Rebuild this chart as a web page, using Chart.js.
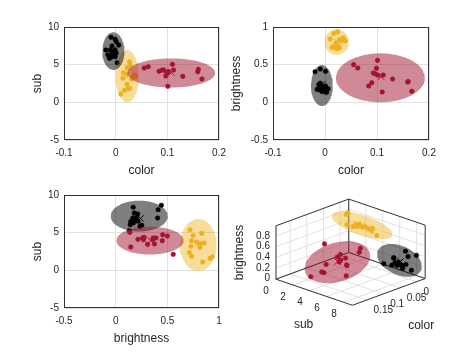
<!DOCTYPE html>
<html><head><meta charset="utf-8">
<script src="https://cdn.jsdelivr.net/npm/chart.js@4/dist/chart.umd.min.js"></script>
<style>
html,body{margin:0;padding:0;background:#fff;width:474px;height:355px;overflow:hidden}
canvas{position:absolute}
</style></head><body>
<canvas id="c1" width="237" height="180" style="left:0px;top:0px"></canvas>
<canvas id="c2" width="252" height="180" style="left:222px;top:0px"></canvas>
<canvas id="c3" width="237" height="175" style="left:0px;top:180px"></canvas>
<canvas id="c4" width="252" height="175" style="left:222px;top:180px"></canvas>
<script>
// ---------------- DATA ----------------
// clusters: red, black, yellow  (color, sub, brightness)
const redColor   = [0.055,0.063,0.084,0.090,0.093,0.097,0.099,0.101,0.102,0.110,0.112,0.130,0.159,0.160,0.167];
const redSub     = [4.55,4.73,4.11,4.29,4.29,3.49,3.93,2.12,4.07,5.04,4.29,3.45,4.07,4.38,3.09];
const redBright  = [0.50,0.455,0.216,0.26,0.39,0.376,0.451,0.557,0.36,0.137,0.362,0.309,0.27,0.275,0.146];

const blackColor  = [-0.009,-0.001,0.001,0.006,-0.007,-0.019,-0.010,-0.001,-0.006,0.001,-0.009,-0.001,-0.012,0.003,-0.004,-0.015];
const blackSub    = [8.63,8.37,8.05,7.6,7.48,6.95,6.95,6.95,6.46,6.51,5.98,6.06,5.84,5.26,6.70,6.3];
const blackBright = [0.442,0.17,0.411,0.18,0.213,0.406,0.165,0.199,0.145,0.216,0.252,0.141,0.235,0.132,0.197,0.172];

const yellowColor  = [0.027,0.022,0.015,0.021,0.035,0.014,0.031,0.022,0.027,0.010,0.017,0.039,0.028,0.024];
const yellowSub    = [5.39,4.60,3.93,3.76,3.63,3.19,3.05,2.39,1.86,1.10,1.59,3.53,4.90,1.81];
const yellowBright = [0.72,0.75,0.735,0.784,0.855,0.729,0.816,0.713,0.735,0.842,0.913,0.816,0.832,0.935];

// cluster centres (red, black, yellow)
const centroidColor  = [0.108,-0.005,0.024];
const centroidSub    = [3.95,6.9,3.5];
const centroidBright = [0.34,0.24,0.80];

// 2-D ellipses per panel: [cx, cy, rx, ry] in data units (red, black, yellow)
const ellColorSub    = [[0.1075,3.9,0.085,1.93],[-0.0045,6.8,0.0215,2.5],[0.0225,3.47,0.0225,3.47]];
const ellColorBright = [[0.1065,0.325,0.0855,0.325],[-0.006,0.223,0.021,0.272],[0.0225,0.80,0.0235,0.17]];
const ellBrightSub   = [[0.332,3.95,0.325,1.85],[0.228,7.2,0.276,2.05],[0.80,3.36,0.178,3.45]];

// 3-D ellipsoids: [c, s, b, rc, rs, rb]
const ellipsoids = [[0.1075,3.9,0.325,0.085,1.93,0.325],[-0.005,6.8,0.26,0.0215,2.5,0.272],[0.0225,3.47,0.80,0.0225,3.47,0.17]];

// tick labels
const colorTicks  = [-0.1,0,0.1,0.2];
const subTicks    = [-5,0,5,10];
const brightTicks = [-0.5,0,0.5,1];
const colorTicks3 = [0,0.05,0.1,0.15];
const subTicks3   = [0,2,4,6,8];
const brightTicks3= [0,0.2,0.4,0.6,0.8];
const cLim=[-0.026,0.1925], sLim=[0,9], bLim=[-0.01,0.99];

// ---------------- STYLE ----------------
const FONT = "'Liberation Sans', Arial, Helvetica, sans-serif";
const TXT = '#262626';
const GRID = '#e1e1e1';
const seriesColor = ['#A2142F','#000000','#EDB120'];
const fillColor = ['rgba(162,20,47,0.5)','rgba(0,0,0,0.5)','rgba(237,177,32,0.45)'];

const allColor=[redColor,blackColor,yellowColor];
const allSub=[redSub,blackSub,yellowSub];
const allBright=[redBright,blackBright,yellowBright];

function pts(xs,ys){return xs.map((x,i)=>({x:x,y:ys[i]}));}
function ellPts(e){const out=[];for(let i=0;i<=96;i++){const t=2*Math.PI*i/96;out.push({x:e[0]+e[2]*Math.cos(t),y:e[1]+e[3]*Math.sin(t)});}return out;}

const boxPlugin={id:'box',afterDatasetsDraw(chart){const a=chart.chartArea,ctx=chart.ctx;ctx.save();ctx.strokeStyle='#303030';ctx.lineWidth=1;
  ctx.strokeRect(Math.round(a.left)+0.5,Math.round(a.top)+0.5,Math.round(a.right-a.left)-1,Math.round(a.bottom-a.top)-1);ctx.restore();}};

function axis(pos,min,max,ticks,title,size,titlePad,tickPad){
  return {type:'linear',position:pos,min:min,max:max,
    afterBuildTicks:s=>{s.ticks=ticks.map(v=>({value:v}));},
    afterFit:s=>{if(pos==='bottom')s.height=size;else s.width=size;},
    ticks:{callback:v=>String(v),font:{family:FONT,size:10},color:TXT,padding:tickPad,maxRotation:0,minRotation:0,autoSkip:false},
    grid:{color:GRID,lineWidth:1,drawTicks:false},
    border:{display:false},
    title:{display:true,text:title,font:{family:FONT,size:12},color:TXT,
      padding:pos==='bottom'?{top:0,bottom:titlePad}:{top:titlePad,bottom:0}}};
}

function make2D(id,xs,ys,cx,cy,ells,xa,ya,pad){
  const ds=[];
  for(let k=0;k<3;k++){
    ds.push({type:'scatter',data:pts(xs[k],ys[k]),order:3,pointStyle:'circle',pointRadius:2.3,pointHoverRadius:2.3,
      backgroundColor:seriesColor[k],borderColor:seriesColor[k],borderWidth:0.5});
    ds.push({type:'line',data:ellPts(ells[k]),order:2,fill:'shape',backgroundColor:fillColor[k],
      borderColor:'transparent',borderWidth:0,pointRadius:0,pointHoverRadius:0,tension:0});
    ds.push({type:'scatter',data:[{x:cx[k],y:cy[k]}],order:1,pointStyle:'crossRot',pointRadius:4.5,pointHoverRadius:4.5,
      borderColor:seriesColor[k],backgroundColor:'transparent',borderWidth:1});
  }
  return new Chart(document.getElementById(id),{type:'scatter',data:{datasets:ds},
    options:{responsive:false,animation:false,devicePixelRatio:1,events:[],
      layout:{padding:pad},
      plugins:{legend:{display:false},tooltip:{enabled:false}},
      scales:{x:xa,y:ya}},
    plugins:[boxPlugin]});
}

make2D('c1',allColor,allSub,centroidColor,centroidSub,ellColorSub,
  axis('bottom',-0.1,0.2,colorTicks,'color',40,1.8,7),
  axis('left',-5,10,subTicks,'sub',64,30.8,5),
  {left:0,top:27,right:18,bottom:0});
make2D('c2',allColor,allBright,centroidColor,centroidBright,ellColorBright,
  axis('bottom',-0.1,0.2,colorTicks,'color',40,1.8,7),
  axis('left',-0.5,1,brightTicks,'brightness',51,7.3,5),
  {left:0,top:27,right:45,bottom:0});
make2D('c3',allBright,allSub,centroidBright,centroidSub,ellBrightSub,
  axis('bottom',-0.5,1,brightTicks,'brightness',47,8.8,7),
  axis('left',-5,10,subTicks,'sub',64,30.8,5),
  {left:0,top:15,right:18,bottom:0});

// ---------------- 3-D panel ----------------
// view layout (canvas pixel units): origin = corner (cMin, sMin, bMin); edge vectors of the box
const view={ox:126.8,oy:71.5,ec:[-76.1,28.5],es:[79.9,27.8],eb:[0,-57]};
function proj(c,s,b){
  const cn=(c-cLim[0])/(cLim[1]-cLim[0]),sn=(s-sLim[0])/(sLim[1]-sLim[0]),bn=(b-bLim[0])/(bLim[1]-bLim[0]);
  return {x:view.ox+cn*view.ec[0]+sn*view.es[0]+bn*view.eb[0],y:view.oy+cn*view.ec[1]+sn*view.es[1]+bn*view.eb[1]};
}
function silhouette(e){
  const ctr=proj(e[0],e[1],e[2]);
  const f=[e[3]/(cLim[1]-cLim[0]),e[4]/(sLim[1]-sLim[0]),e[5]/(bLim[1]-bLim[0])];
  const cols=[view.ec,view.es,view.eb].map((v,i)=>[v[0]*f[i],v[1]*f[i]]);
  let sxx=0,syy=0,sxy=0;cols.forEach(v=>{sxx+=v[0]*v[0];syy+=v[1]*v[1];sxy+=v[0]*v[1];});
  const th=0.5*Math.atan2(2*sxy,sxx-syy),m=(sxx+syy)/2,d=Math.sqrt(((sxx-syy)/2)**2+sxy*sxy);
  const A=Math.sqrt(m+d),B=Math.sqrt(Math.max(m-d,0));const out=[];
  for(let i=0;i<=96;i++){const t=2*Math.PI*i/96,u=A*Math.cos(t),v=B*Math.sin(t);
    out.push({x:ctr.x+u*Math.cos(th)-v*Math.sin(th),y:ctr.y+u*Math.sin(th)+v*Math.cos(th)});}
  return out;
}
const ds3=[];
for(let k=0;k<3;k++){
  ds3.push({type:'scatter',data:allColor[k].map((c,i)=>proj(c,allSub[k][i],allBright[k][i])),order:3,pointStyle:'circle',
    pointRadius:2.3,pointHoverRadius:2.3,backgroundColor:seriesColor[k],borderColor:seriesColor[k],borderWidth:0.5});
  ds3.push({type:'line',data:silhouette(ellipsoids[k]),order:2,fill:'shape',backgroundColor:fillColor[k],
    borderColor:'transparent',borderWidth:0,pointRadius:0,pointHoverRadius:0,tension:0});
  ds3.push({type:'scatter',data:[proj(centroidColor[k],centroidSub[k],centroidBright[k])],order:1,pointStyle:'crossRot',
    pointRadius:4.5,pointHoverRadius:4.5,borderColor:seriesColor[k],backgroundColor:'transparent',borderWidth:1});
}
const box3D={id:'box3d',
  beforeDatasetsDraw(chart){
    const ctx=chart.ctx,X=chart.scales.x,Y=chart.scales.y;
    const P=(c,s,b)=>{const p=proj(c,s,b);return [X.getPixelForValue(p.x),Y.getPixelForValue(p.y)];};
    const seg=(a,b)=>{ctx.beginPath();ctx.moveTo(a[0],a[1]);ctx.lineTo(b[0],b[1]);ctx.stroke();};
    const c0=cLim[0],c1=cLim[1],s0=sLim[0],s1=sLim[1],b0=bLim[0],b1=bLim[1];
    ctx.save();ctx.strokeStyle=GRID;ctx.lineWidth=1;
    colorTicks3.forEach(c=>{seg(P(c,s0,b0),P(c,s1,b0));seg(P(c,s0,b0),P(c,s0,b1));});
    subTicks3.forEach(s=>{seg(P(c0,s,b0),P(c1,s,b0));seg(P(c0,s,b0),P(c0,s,b1));});
    brightTicks3.concat([1]).forEach(b=>{if(b>b1)return;seg(P(c0,s0,b),P(c1,s0,b));seg(P(c0,s0,b),P(c0,s1,b));});
    ctx.strokeStyle='#303030';ctx.lineWidth=1;
    seg(P(c0,s0,b0),P(c0,s0,b1));seg(P(c1,s0,b1),P(c0,s0,b1));seg(P(c0,s0,b1),P(c0,s1,b1));
    seg(P(c1,s0,b0),P(c1,s0,b1));seg(P(c0,s1,b0),P(c0,s1,b1));
    seg(P(c1,s0,b0),P(c0,s0,b0));seg(P(c0,s0,b0),P(c0,s1,b0));
    seg(P(c1,s0,b0),P(c1,s1,b0));seg(P(c1,s1,b0),P(c0,s1,b0));
    ctx.restore();
  },
  afterDraw(chart){
    const ctx=chart.ctx,X=chart.scales.x,Y=chart.scales.y;
    const P=(c,s,b)=>{const p=proj(c,s,b);return [X.getPixelForValue(p.x),Y.getPixelForValue(p.y)];};
    const c0=cLim[0],c1=cLim[1],s0=sLim[0],s1=sLim[1],b0=bLim[0],b1=bLim[1];
    ctx.save();ctx.fillStyle=TXT;ctx.font='10px '+FONT;ctx.textBaseline='middle';
    ctx.textAlign='right';
    brightTicks3.forEach(b=>{const p=P(c1,s0,b);ctx.fillText(String(b),p[0]-6,p[1]);});
    subTicks3.forEach(s=>{const p=P(c1,s,b0);ctx.fillText(String(s),p[0]-7.2,p[1]+11.8);});
    ctx.textAlign='left';
    colorTicks3.forEach(c=>{const p=P(c,s1,b0);ctx.fillText(String(c),p[0]+7,p[1]+10.5);});
    ctx.font='12px '+FONT;ctx.textAlign='center';
    let p=P(c1,(s0+s1)/2,b0);ctx.fillText('sub',p[0]-10.6,p[1]+32.7);
    p=P((c0+c1)/2,s1,b0);ctx.fillText('color',p[0]+32.4,p[1]+33.5);
    p=P(c1,s0,(b0+b1)/2);ctx.translate(p[0]-36,p[1]);ctx.rotate(-Math.PI/2);ctx.fillText('brightness',0,0);
    ctx.restore();
  }};
new Chart(document.getElementById('c4'),{type:'scatter',data:{datasets:ds3},
  options:{responsive:false,animation:false,devicePixelRatio:1,events:[],
    layout:{padding:0},plugins:{legend:{display:false},tooltip:{enabled:false}},
    scales:{x:{type:'linear',display:false,min:0,max:252},y:{type:'linear',display:false,min:0,max:175,reverse:true}}},
  plugins:[box3D]});
</script>
</body></html>
